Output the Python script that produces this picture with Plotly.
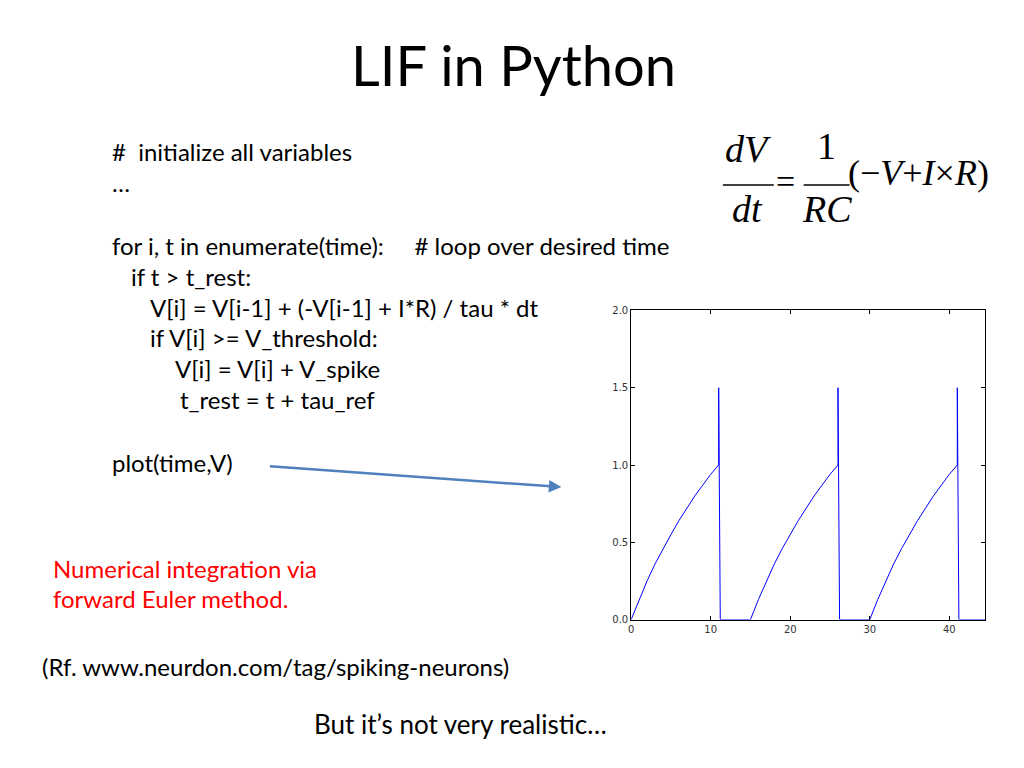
import plotly.graph_objects as go

# membrane voltage trace (three charge / spike / reset cycles)
time = [0, 1, 2, 3, 4, 5, 6, 7, 8, 9, 10, 11, 11.0, 11.2, 15,
        16, 17, 18, 19, 20, 21, 22, 23, 24, 25, 26, 26.0, 26.2, 30,
        31, 32, 33, 34, 35, 36, 37, 38, 39, 40, 41, 41.0, 41.2, 44.5]
V = [0, 0.13, 0.25, 0.36, 0.46, 0.55, 0.64, 0.72, 0.80, 0.87, 0.94, 1.0, 1.5, 0, 0,
     0.13, 0.25, 0.36, 0.46, 0.55, 0.64, 0.72, 0.80, 0.87, 0.94, 1.0, 1.5, 0, 0,
     0.13, 0.25, 0.36, 0.46, 0.55, 0.64, 0.72, 0.80, 0.87, 0.94, 1.0, 1.5, 0, 0]
x_ticks = [0, 10, 20, 30, 40]
y_ticks = [0.0, 0.5, 1.0, 1.5, 2.0]

W, H = 1024, 768
OFF = 8  # page body margin
FONT = "Lato"
SERIF = "Liberation Serif"


def px(x, y):
    y = y + (y - 150) * 0.018
    return (x - OFF) / W, 1 - (y - OFF) / H


fig = go.Figure()
fig.add_trace(go.Scatter(x=time, y=V, mode="lines",
                         line=dict(color="#0000ff", width=1),
                         hoverinfo="skip"))

annotations = []


def text(s, x, y, size=24, color="black", font=FONT, xanchor="left", italic=False):
    ax, ay = px(x - 5, y - 5)
    if italic:
        s = "<i>" + s + "</i>"
    annotations.append(dict(text=s, x=ax, y=ay, xref="paper", yref="paper",
                            xanchor=xanchor, yanchor="middle", showarrow=False,
                            font=dict(family=font, size=size, color=color)))


text("LIF in Python", 517, 66, size=56, xanchor="center")
text("#  initialize all variables", 112, 153)
text("…", 112, 183)
text("for i, t in enumerate(time):     # loop over desired time", 112, 246)
text("if t &gt; t_rest:", 131, 277)
text("V[i] = V[i-1] + (-V[i-1] + I*R) / tau * dt", 150, 308)
text("if V[i] &gt;= V_threshold:", 150, 338)
text("V[i] = V[i] + V_spike", 175, 369)
text("t_rest = t + tau_ref", 180, 400)
text("plot(time,V)", 112, 462)
text("Numerical integration via", 53, 568, color="#ff0000")
text("forward Euler method.", 53, 598, color="#ff0000")
text("(Rf. www.neurdon.com/tag/spiking-neurons)", 42, 666)
text("But it’s not very realistic…", 464, 723, size=26, xanchor="center")

# equation dV/dt = 1/RC (-V + I x R)
text("dV", 752, 150, size=38, font=SERIF, xanchor="center", italic=True)
text("dt", 752, 210, size=38, font=SERIF, xanchor="center", italic=True)
text("=", 790, 182, size=34, font=SERIF, xanchor="center")
text("1", 831, 147, size=38, font=SERIF, xanchor="center")
text("RC", 831, 210, size=38, font=SERIF, xanchor="center", italic=True)
text("(−<i>V</i>+<i>I</i>×<i>R</i>)", 850, 174, size=36, font=SERIF)

# arrow from plot(time,V) to the chart
hx, hy = px(560, 482)
annotations.append(dict(x=hx, y=hy, ax=-293, ay=-21, xref="paper", yref="paper",
                        axref="pixel", ayref="pixel", text="", showarrow=True,
                        arrowhead=2, arrowsize=1, arrowwidth=2.5,
                        arrowcolor="#4f81bd"))

shapes = []
for x0, x1 in [(722, 773), (803, 849)]:
    a0, yy = px(x0, 181)
    a1, _ = px(x1, 181)
    shapes.append(dict(type="line", xref="paper", yref="paper",
                       x0=a0, x1=a1, y0=yy, y1=yy,
                       line=dict(color="black", width=1.5)))

axis = dict(showgrid=False, zeroline=False, showline=True, mirror="ticks",
            linecolor="black", linewidth=1, ticks="inside", ticklen=4,
            tickcolor="black", tickfont=dict(family="DejaVu Sans", size=10,
                                             color="#333333"))

_, y_bot = px(0, 614)
_, y_top = px(0, 306)
fig.update_layout(
    width=W, height=H, margin=dict(l=0, r=0, t=0, b=0),
    paper_bgcolor="white", plot_bgcolor="white", showlegend=False,
    xaxis=dict(axis, domain=[(630 - OFF) / W, (985 - OFF) / W], range=[0, 44.5],
               tickvals=x_ticks, ticktext=[str(v) for v in x_ticks]),
    yaxis=dict(axis, domain=[y_bot, y_top], range=[0, 2.0],
               tickvals=y_ticks, ticktext=["%.1f" % v for v in y_ticks]),
    annotations=annotations, shapes=shapes,
)

fig.write_html("out.html")
